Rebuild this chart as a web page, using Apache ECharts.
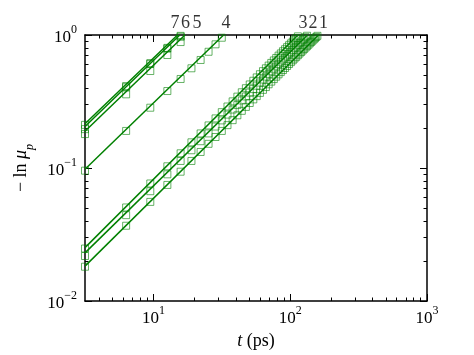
<!DOCTYPE html>
<html><head><meta charset="utf-8">
<script src="https://cdn.jsdelivr.net/npm/echarts@6/dist/echarts.min.js"></script>
<style>html,body{margin:0;padding:0;background:#fff}#c{width:474px;height:355px}</style>
</head><body><div id="c"></div>
<script>
// time grid (ps)
const times = [3.1623, 6.32, 9.49, 12.65, 15.81, 18.97, 22.14, 25.30, 28.46, 31.62, 34.79, 37.95, 41.11, 44.27, 47.43, 50.60, 53.76, 56.92, 60.08, 63.25, 66.41, 69.57, 72.73, 75.90, 79.06, 82.22, 85.38, 88.54, 91.71, 94.87, 98.03, 101.19, 104.36, 107.52, 110.68, 113.84, 117.01, 120.17, 123.33, 126.49, 129.65, 132.82, 135.98, 139.14, 142.30, 145.47, 148.63, 151.79, 154.95, 158.12];
// -ln mu_p values per curve
const curve1 = [0.0181,0.0368,0.0556,0.0746,0.0938,0.113,0.132,0.152,0.171,0.190,0.210,0.229,0.249,0.269,0.288,0.308,0.328,0.347,0.367,0.387,0.406,0.426,0.446,0.466,0.486,0.506,0.526,0.545,0.565,0.585,0.605,0.625,0.645,0.665,0.685,0.705,0.725,0.745,0.765,0.785,0.805,0.825,0.845,0.866,0.886,0.906,0.926,0.946,0.966,0.986];
const curve2 = [0.0218,0.0442,0.0669,0.0896,0.113,0.136,0.159,0.182,0.205,0.228,0.252,0.275,0.298,0.322,0.345,0.369,0.392,0.416,0.439,0.463,0.487,0.510,0.534,0.558,0.581,0.605,0.629,0.653,0.676,0.700,0.724,0.748,0.772,0.795,0.819,0.843,0.867,0.891,0.915,0.939,0.963,0.987];
const curve3 = [0.0248,0.0505,0.0765,0.103,0.129,0.156,0.182,0.209,0.236,0.263,0.290,0.317,0.344,0.371,0.398,0.425,0.453,0.480,0.507,0.535,0.562,0.589,0.617,0.644,0.672,0.700,0.727,0.755,0.782,0.810,0.838,0.865,0.893,0.921,0.949,0.977];
const curve4 = [0.0955,0.190,0.284,0.379,0.467,0.562,0.649,0.748,0.851,0.954];
const curve5 = [0.180,0.358,0.536,0.707,0.885];
const curve6 = [0.196,0.405,0.607,0.790,0.970];
const curve7 = [0.211,0.413,0.614,0.800,0.985];
// straight-line fits: start and end points
const fitStartT = [3.1623,3.1623,3.1623,3.1623,3.1623,3.1623,3.1623];
const fitStartV = [0.0183,0.0230,0.0252,0.098,0.189,0.205,0.215];
const fitEndT = [161,134,114,32.6,17.0,15.6,15.0];
const fitEndV = [1,1,1,1,1,1,1];
// curve labels along the top
const topLabelText = ['7','6','5','4','3','2','1'];
const topLabelT = [14.4,17.2,20.8,34.0,124,147,175];
// ticks
const xMajorTicks = [10,100,1000];
const xMinorTicks = [4,5,6,7,8,9,20,30,40,50,60,70,80,90,200,300,400,500,600,700,800,900];
const yMajorTicks = [0.01,0.1,1];
const yMinorTicks = [0.02,0.03,0.04,0.05,0.06,0.07,0.08,0.09,0.2,0.3,0.4,0.5,0.6,0.7,0.8,0.9];

const curves = [curve1,curve2,curve3,curve4,curve5,curve6,curve7];
const FONT = 'Liberation Serif';
const LINE = '#008000';
const MARK = 'rgba(0,128,0,0.75)';
const XMIN = Math.sqrt(10), XMAX = 1000, YMIN = 0.01, YMAX = 1;

function pow10Label(v){
  const e = Math.round(Math.log10(v));
  const es = e < 0 ? '\u2212' + (-e) : String(e);
  return '{b|10}{s|' + es + '}';
}
const rich = {
  b:{fontFamily:FONT,fontSize:17,lineHeight:22,verticalAlign:'bottom',color:'#000'},
  s:{fontFamily:FONT,fontSize:12,lineHeight:12,verticalAlign:'top',color:'#000'}
};
const tickStyle = {color:'#000',width:1};
function makeX(pos, major, showLabel, showLine){
  return {
    type:'log', min:XMIN, max:XMAX, position:pos, gridIndex:0,
    axisLine:{show:showLine,lineStyle:{color:'#000',width:1.5}},
    axisTick:{show:true,inside:true,length:major?7:3.5,customValues:major?xMajorTicks:xMinorTicks,lineStyle:tickStyle},
    axisLabel:{show:showLabel,customValues:xMajorTicks,margin:4,formatter:pow10Label,rich:rich},
    splitLine:{show:false},
    name: showLabel ? '{i|t} (ps)' : '',
    nameLocation:'middle', nameGap:30,
    nameTextStyle:{fontFamily:FONT,fontSize:18,color:'#000',rich:{i:{fontFamily:FONT,fontSize:18,fontStyle:'italic',color:'#000'}}}
  };
}
function makeY(pos, major, showLabel, showLine){
  return {
    type:'log', min:YMIN, max:YMAX, position:pos, gridIndex:0,
    axisLine:{show:showLine,lineStyle:{color:'#000',width:1.5}},
    axisTick:{show:true,inside:true,length:major?7:3.5,customValues:major?yMajorTicks:yMinorTicks,lineStyle:tickStyle},
    axisLabel:{show:showLabel,customValues:yMajorTicks,margin:8,formatter:pow10Label,rich:rich},
    splitLine:{show:false},
    name: showLabel ? '{m|\u2212 ln }{u|\u03bc}{p|p}' : '',
    nameLocation:'middle', nameGap:48, nameRotate:90,
    nameTextStyle:{fontFamily:FONT,fontSize:18,color:'#000',rich:{
      m:{fontFamily:FONT,fontSize:18,color:'#000'},
      u:{fontFamily:FONT,fontSize:18,fontStyle:'italic',color:'#000'},
      p:{fontFamily:FONT,fontSize:12,fontStyle:'italic',color:'#000',verticalAlign:'bottom',lineHeight:12,padding:[0,0,-6,0]}
    }}
  };
}

const series = [];
curves.forEach((c,i)=>{
  series.push({
    type:'line', xAxisIndex:0, yAxisIndex:0, showSymbol:false, silent:true,
    data:[[fitStartT[i],fitStartV[i]],[fitEndT[i],fitEndV[i]]],
    lineStyle:{color:LINE,width:1.5}, z:2
  });
  series.push({
    type:'scatter', xAxisIndex:0, yAxisIndex:0, symbol:'rect', symbolSize:7, silent:true,
    data:c.map((v,k)=>[times[k],v]),
    itemStyle:{color:'rgba(0,0,0,0)',borderColor:MARK,borderWidth:1}, z:3
  });
});
series.push({
  type:'scatter', xAxisIndex:0, yAxisIndex:0, symbolSize:0, silent:true, clip:false,
  data:topLabelT.map((t,i)=>[t,YMAX,topLabelText[i]]),
  label:{show:true,position:'top',distance:3,formatter:p=>p.value[2],fontFamily:FONT,fontSize:18,color:'#000'}
});

const chart = echarts.init(document.getElementById('c'),null,{renderer:'canvas'});
chart.setOption({
  animation:false,
  backgroundColor:'#fff',
  grid:{left:85,right:47,top:35,bottom:54,containLabel:false},
  xAxis:[makeX('bottom',true,true,true),makeX('bottom',false,false,false),makeX('top',true,false,true),makeX('top',false,false,false)],
  yAxis:[makeY('left',true,true,true),makeY('left',false,false,false),makeY('right',true,false,true),makeY('right',false,false,false)],
  series:series
});
</script></body></html>
